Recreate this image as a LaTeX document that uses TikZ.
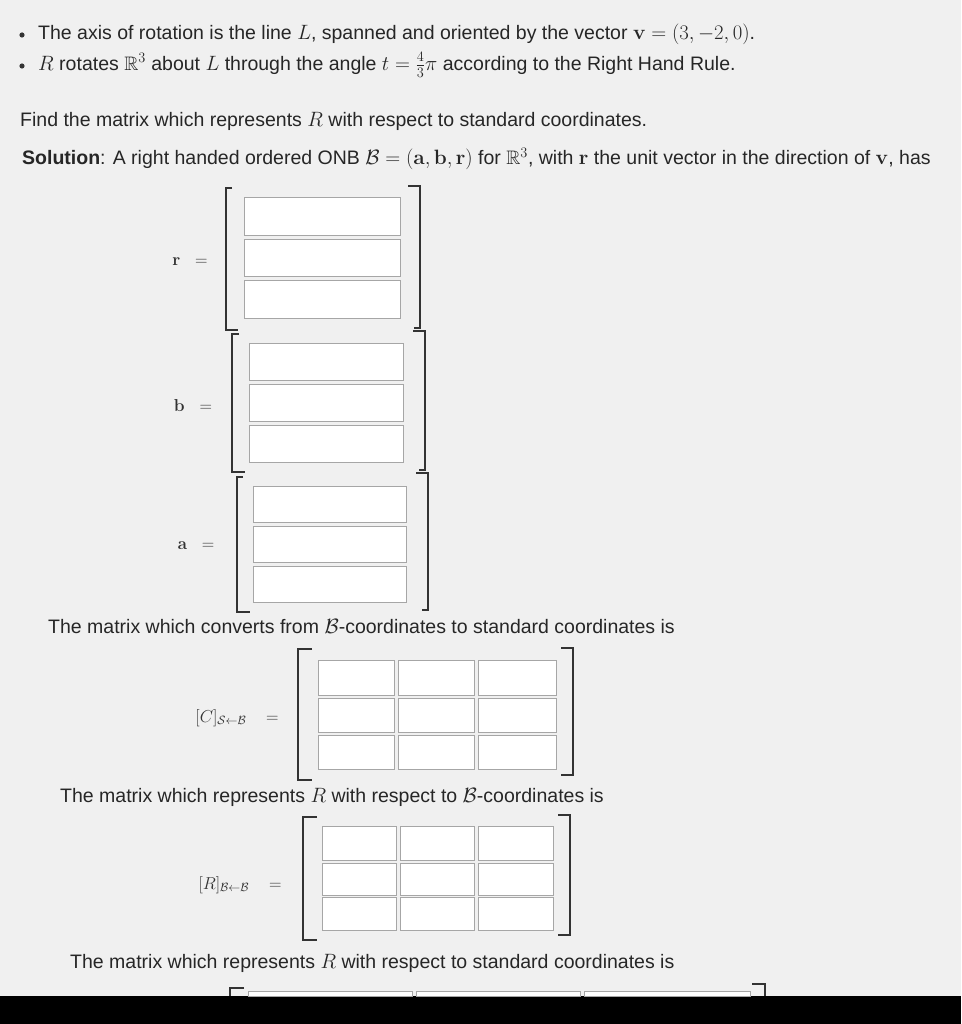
\documentclass[tikz,border=0pt]{standalone}
\usepackage{amsmath,amssymb}
\usepackage[no-math]{fontspec}
\setmainfont{Liberation Sans}
\begin{document}
\begin{tikzpicture}[x=1pt,y=-1pt,
  txt/.style={anchor=west,inner sep=0pt,font=\fontsize{19.5}{22}\selectfont,text=black!85},
  lab/.style={inner sep=0pt,font=\fontsize{18}{20}\selectfont,text=black!80},
  cell/.style={draw=black!35,fill=white,line width=0.8pt},
  brk/.style={draw=black!80,line width=1.6pt}]
\useasboundingbox (0,0) rectangle (961,1024);
\fill[gray!12] (0,0) rectangle (961,1024);
\fill[black] (0,996) rectangle (961,1024);
% header text
\fill[black!80] (22,35) circle (2.6);
\node[txt] (l1) at (38,34) {The axis of rotation is the line $L$, spanned and oriented by the vector $\mathbf v=(3,-2,0)$.};
\fill[black!80] (22,66) circle (2.6);
\node[txt] (l2) at (38,65) {$R$ rotates $\mathbb R^3$ about $L$ through the angle $t=\frac{4}{3}\pi$ according to the Right Hand Rule.};
\node[txt] (l3) at (20,121) {Find the matrix which represents $R$ with respect to standard coordinates.};
\node[txt] (l4) at (22,159) {\textbf{Solution}: A right handed ordered ONB $\mathcal B=(\mathbf a,\mathbf b,\mathbf r)$ for $\mathbb R^3$, with $\mathbf r$ the unit vector in the direction of $\mathbf v$, has};
% vectors
\node[lab] (rl) at (190,262) {$\mathbf r\ \ =$};
\draw[brk] (232,188) -- (226,188) -- (226,330) -- (238,330);
\draw[brk] (408,186) -- (420,186) -- (420,328) -- (414,328);
\foreach \a/\b in {197/235,239/276,280/318} \draw[cell] (244,\a) rectangle (400,\b);
\node[lab] (bl) at (193,405) {$\mathbf b\ \ =$};
\draw[brk] (239,334) -- (232,334) -- (232,472) -- (245,472);
\draw[brk] (413,331) -- (425,331) -- (425,470) -- (419,470);
\foreach \a/\b in {343/380,384/421,425/462} \draw[cell] (249,\a) rectangle (403,\b);
\node[lab] (al) at (196,546) {$\mathbf a\ \ =$};
\draw[brk] (243,477) -- (237,477) -- (237,612) -- (250,612);
\draw[brk] (416,473) -- (428,473) -- (428,610) -- (422,610);
\foreach \a/\b in {486/522,526/562,566/602} \draw[cell] (253,\a) rectangle (406,\b);
% C matrix
\node[txt] (l5) at (48,627) {The matrix which converts from $\mathcal B$-coordinates to standard coordinates is};
\node[lab] (cl) at (237,718) {$[C]_{\mathcal S\leftarrow\mathcal B}\ \ \ =$};
\draw[brk] (312,649) -- (298,649) -- (298,780) -- (312,780);
\draw[brk] (561,648) -- (573,648) -- (573,775) -- (561,775);
\foreach \a/\b in {660/695,698/732,735/769}
  \foreach \c/\d in {318/394,398/474,478/556} \draw[cell] (\c,\a) rectangle (\d,\b);
% R matrix
\node[txt] (l6) at (60,797) {The matrix which represents $R$ with respect to $\mathcal B$-coordinates is};
\node[lab] (rm) at (240,885) {$[R]_{\mathcal B\leftarrow\mathcal B}\ \ \ =$};
\draw[brk] (317,817) -- (303,817) -- (303,940) -- (317,940);
\draw[brk] (558,815) -- (570,815) -- (570,935) -- (558,935);
\foreach \a/\b in {826/860,863/895,897/930}
  \foreach \c/\d in {322/396,400/474,478/553} \draw[cell] (\c,\a) rectangle (\d,\b);
\node[txt] (l7) at (70,963) {The matrix which represents $R$ with respect to standard coordinates is};
\draw[brk] (244,988) -- (230,988) -- (230,996);
\draw[brk] (752,984) -- (765,984) -- (765,996);
\foreach \c/\d in {248/412,416/580,584/750} \draw[cell] (\c,991) rectangle (\d,996);
\end{tikzpicture}
\end{document}
